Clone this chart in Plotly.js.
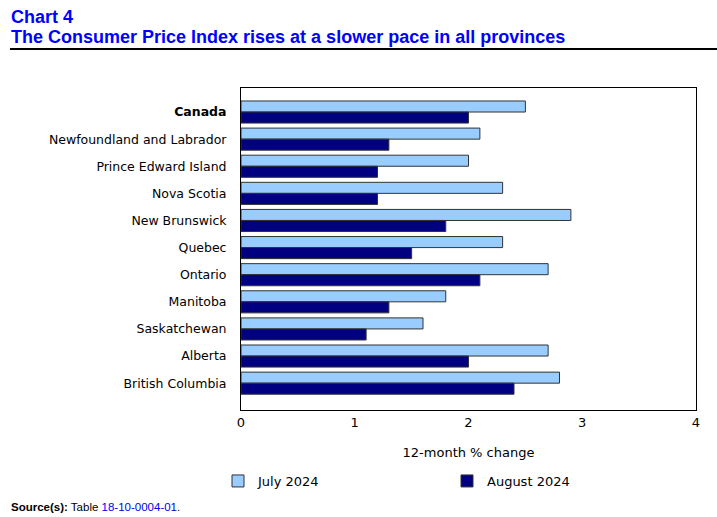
<!DOCTYPE html>
<html><head><meta charset="utf-8">
<script src="https://cdn.plot.ly/plotly-3.0.1.min.js"></script>
<style>html,body{margin:0;padding:0;background:#fff}</style>
</head><body>
<div id="chart" style="width:717px;height:517px"></div>
<script>
var categories = ["Canada","Newfoundland and Labrador","Prince Edward Island","Nova Scotia","New Brunswick","Quebec","Ontario","Manitoba","Saskatchewan","Alberta","British Columbia"];
var tickLabels = ["<b>Canada</b>","Newfoundland and Labrador","Prince Edward Island","Nova Scotia","New Brunswick","Quebec","Ontario","Manitoba","Saskatchewan","Alberta","British Columbia"];
var july2024 = [2.5,2.1,2.0,2.3,2.9,2.3,2.7,1.8,1.6,2.7,2.8];
var august2024 = [2.0,1.3,1.2,1.2,1.8,1.5,2.1,1.3,1.1,2.0,2.4];
var seriesNames = ["July 2024","August 2024"];
var xTicks = [0,1,2,3,4];

var W=717,H=517,L=241,R=21,T=88,B=107;
var pw=W-L-R, ph=H-T-B;
function px(x){return (x-L)/pw;}
function py(y){return (H-B-y)/ph;}

var traces=[
 {type:'bar',orientation:'h',name:seriesNames[0],y:categories,x:july2024,legend:'legend',
  marker:{color:'#99CCFF',line:{color:'#333333',width:1}},hoverinfo:'x+y'},
 {type:'bar',orientation:'h',name:seriesNames[1],y:categories,x:august2024,legend:'legend2',
  marker:{color:'#000080',line:{color:'#333333',width:1}},hoverinfo:'x+y'}
];
var font='"DejaVu Sans", Verdana, sans-serif';
var tfont='"Liberation Sans", Arial, sans-serif';
function leg(xp){
 return {orientation:'h',x:px(xp),xanchor:'left',y:py(481),yanchor:'middle',itemwidth:30,
  font:{family:font,size:13,color:'#000'},bgcolor:'rgba(0,0,0,0)'};
}
var layout={
 width:W,height:H,margin:{l:L,r:R,t:T,b:B,pad:0},
 paper_bgcolor:'#fff',plot_bgcolor:'#fff',
 barmode:'group',bargap:0.185,bargroupgap:0,
 showlegend:true,
 font:{family:font,size:13,color:'#000'},
 xaxis:{range:[0,4],tickvals:xTicks,ticktext:xTicks.map(String),showgrid:false,zeroline:false,
  showline:true,linecolor:'#000',linewidth:1,mirror:true,ticks:'',
  tickfont:{family:font,size:13,color:'#000'},
  title:{text:'12-month % change',font:{family:font,size:13,color:'#000'},standoff:19}},
 yaxis:{type:'category',categoryorder:'array',categoryarray:categories,range:[10.99,-0.886],
  tickmode:'array',tickvals:categories,ticktext:tickLabels,showgrid:false,zeroline:false,
  showline:true,linecolor:'#000',linewidth:1,mirror:true,ticks:'',ticklabelstandoff:11,
  tickfont:{family:font,size:12.5,color:'#000'}},
 legend:leg(218),
 legend2:leg(447),
 annotations:[
  {xref:'paper',yref:'paper',x:px(9),y:py(17),xanchor:'left',yanchor:'middle',showarrow:false,
   text:'<b>Chart 4</b>',font:{family:tfont,size:18,color:'#0000FF'}},
  {xref:'paper',yref:'paper',x:px(9),y:py(37),xanchor:'left',yanchor:'middle',showarrow:false,
   text:'<b>The Consumer Price Index rises at a slower pace in all provinces</b>',font:{family:tfont,size:18,color:'#0000FF'}},
  {xref:'paper',yref:'paper',x:px(9),y:py(507),xanchor:'left',yanchor:'middle',showarrow:false,
   text:'<b>Source(s):</b> Table <span style="color:#0000EE">18-10-0004-01</span>.',font:{family:tfont,size:11.5,color:'#000'}}
 ],
 shapes:[
  {type:'line',xref:'paper',yref:'paper',x0:px(10),x1:px(717),y0:py(49),y1:py(49),line:{color:'#000',width:2}}
 ]
};
Plotly.newPlot('chart',traces,layout,{displayModeBar:false,staticPlot:true});
</script>
</body></html>
